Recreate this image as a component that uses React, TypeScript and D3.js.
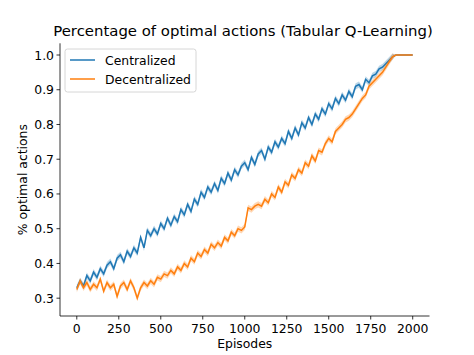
import React from "react";
import * as d3 from "d3";

const episodes: number[] = Array.from({ length: 101 }, (_, i) => i * 20);

const centralized: number[] = [
  0.33, 0.35, 0.335, 0.365, 0.35, 0.375, 0.36, 0.385, 0.37, 0.395,
  0.405, 0.385, 0.415, 0.425, 0.405, 0.435, 0.42, 0.445, 0.43, 0.475,
  0.445, 0.495, 0.48, 0.50, 0.485, 0.515, 0.50, 0.53, 0.51, 0.535,
  0.52, 0.555, 0.54, 0.57, 0.55, 0.585, 0.57, 0.605, 0.59, 0.62,
  0.605, 0.63, 0.61, 0.645, 0.63, 0.66, 0.64, 0.67, 0.655, 0.68,
  0.69, 0.67, 0.705, 0.685, 0.715, 0.725, 0.70, 0.735, 0.72, 0.75,
  0.735, 0.76, 0.745, 0.78, 0.76, 0.79, 0.77, 0.805, 0.79, 0.82,
  0.80, 0.83, 0.815, 0.845, 0.83, 0.86, 0.845, 0.875, 0.86, 0.885,
  0.87, 0.895, 0.88, 0.91, 0.915, 0.90, 0.93, 0.92, 0.94, 0.945,
  0.96, 0.965, 0.975, 0.985, 0.995, 1.0, 1.0, 1.0, 1.0, 1.0, 1.0,
];

const decentralized: number[] = [
  0.325, 0.35, 0.33, 0.345, 0.325, 0.34, 0.33, 0.355, 0.32, 0.345,
  0.33, 0.34, 0.305, 0.335, 0.345, 0.325, 0.35, 0.33, 0.30, 0.33,
  0.345, 0.335, 0.35, 0.34, 0.36, 0.355, 0.37, 0.365, 0.38, 0.37,
  0.39, 0.38, 0.40, 0.39, 0.415, 0.405, 0.43, 0.42, 0.44, 0.43,
  0.455, 0.445, 0.46, 0.45, 0.475, 0.465, 0.49, 0.48, 0.50, 0.495,
  0.505, 0.56, 0.555, 0.565, 0.57, 0.565, 0.585, 0.575, 0.60, 0.59,
  0.62, 0.605, 0.635, 0.625, 0.655, 0.645, 0.67, 0.66, 0.69, 0.68,
  0.71, 0.695, 0.725, 0.72, 0.745, 0.76, 0.75, 0.78, 0.79, 0.80,
  0.815, 0.82, 0.83, 0.845, 0.86, 0.875, 0.885, 0.91, 0.92, 0.93,
  0.94, 0.95, 0.965, 0.98, 0.995, 1.0, 1.0, 1.0, 1.0, 1.0, 1.0,
];

const xTicks: number[] = [0, 250, 500, 750, 1000, 1250, 1500, 1750, 2000];
const yTicks: number[] = [0.3, 0.4, 0.5, 0.6, 0.7, 0.8, 0.9, 1.0];
const seriesNames: string[] = ["Centralized", "Decentralized"];
const colors: string[] = ["#1f77b4", "#ff7f0e"];
const BAND = 0.009;

const FONT = "DejaVu Sans, sans-serif";
const FS = 12.4;

export default function App() {
  const W = 474, H = 355;
  const left = 60, right = 429.5, top = 43.3, bottom = 316;
  const x = d3.scaleLinear().domain([-100, 2100]).range([left, right]);
  const y = d3.scaleLinear().domain([0.2487, 1.0337]).range([bottom, top]);

  const all = [centralized, decentralized];
  const line = d3
    .line<number>()
    .x((_, i) => x(episodes[i]))
    .y((d) => y(d));
  const area = d3
    .area<number>()
    .x((_, i) => x(episodes[i]))
    .y0((d) => y(d >= 1 ? d : d - BAND))
    .y1((d) => y(d >= 1 ? d : d + BAND));

  return (
    <svg
      width={W}
      height={H}
      style={{ position: "absolute", left: 0, top: 0, background: "#fff" }}
      fontFamily={FONT}
    >
      <rect width={W} height={H} fill="#fff" />
      <text x={243} y={36} textAnchor="middle" fontSize={14.9} fill="#000">
        Percentage of optimal actions (Tabular Q-Learning)
      </text>

      {all.map((s, k) => (
        <g key={k}>
          <path d={area(s) || ""} fill={colors[k]} opacity={0.3} stroke="none" />
          <path d={line(s) || ""} fill="none" stroke={colors[k]} strokeWidth={1.5} />
        </g>
      ))}

      <line x1={left} x2={left} y1={top} y2={bottom} stroke="#000" strokeWidth={0.8} />
      <line x1={left} x2={right} y1={bottom} y2={bottom} stroke="#000" strokeWidth={0.8} />

      {xTicks.map((t) => (
        <g key={t}>
          <line x1={x(t)} x2={x(t)} y1={bottom} y2={bottom + 3.5} stroke="#000" strokeWidth={0.8} />
          <text x={x(t)} y={bottom + 16.5} textAnchor="middle" fontSize={FS} fill="#000">
            {t}
          </text>
        </g>
      ))}
      {yTicks.map((t) => (
        <g key={t}>
          <line x1={left - 3.5} x2={left} y1={y(t)} y2={y(t)} stroke="#000" strokeWidth={0.8} />
          <text x={left - 6} y={y(t) + 4.5} textAnchor="end" fontSize={FS} fill="#000">
            {t.toFixed(1)}
          </text>
        </g>
      ))}

      <text x={(left + right) / 2} y={347.5} textAnchor="middle" fontSize={FS} fill="#000">
        Episodes
      </text>
      <text
        transform={`translate(26.5,${(top + bottom) / 2}) rotate(-90)`}
        textAnchor="middle"
        fontSize={FS}
        fill="#000"
      >
        % optimal actions
      </text>

      <rect x={65} y={49} width={131} height={43} rx={2.5} fill="#fff" fillOpacity={0.8} stroke="#ccc" strokeWidth={0.8} />
      {seriesNames.map((n, k) => (
        <g key={n}>
          <line x1={70} x2={95} y1={60 + k * 19} y2={60 + k * 19} stroke={colors[k]} strokeWidth={1.5} />
          <text x={105} y={60 + k * 19 + 4.5} fontSize={FS} fill="#000">
            {n}
          </text>
        </g>
      ))}
    </svg>
  );
}
